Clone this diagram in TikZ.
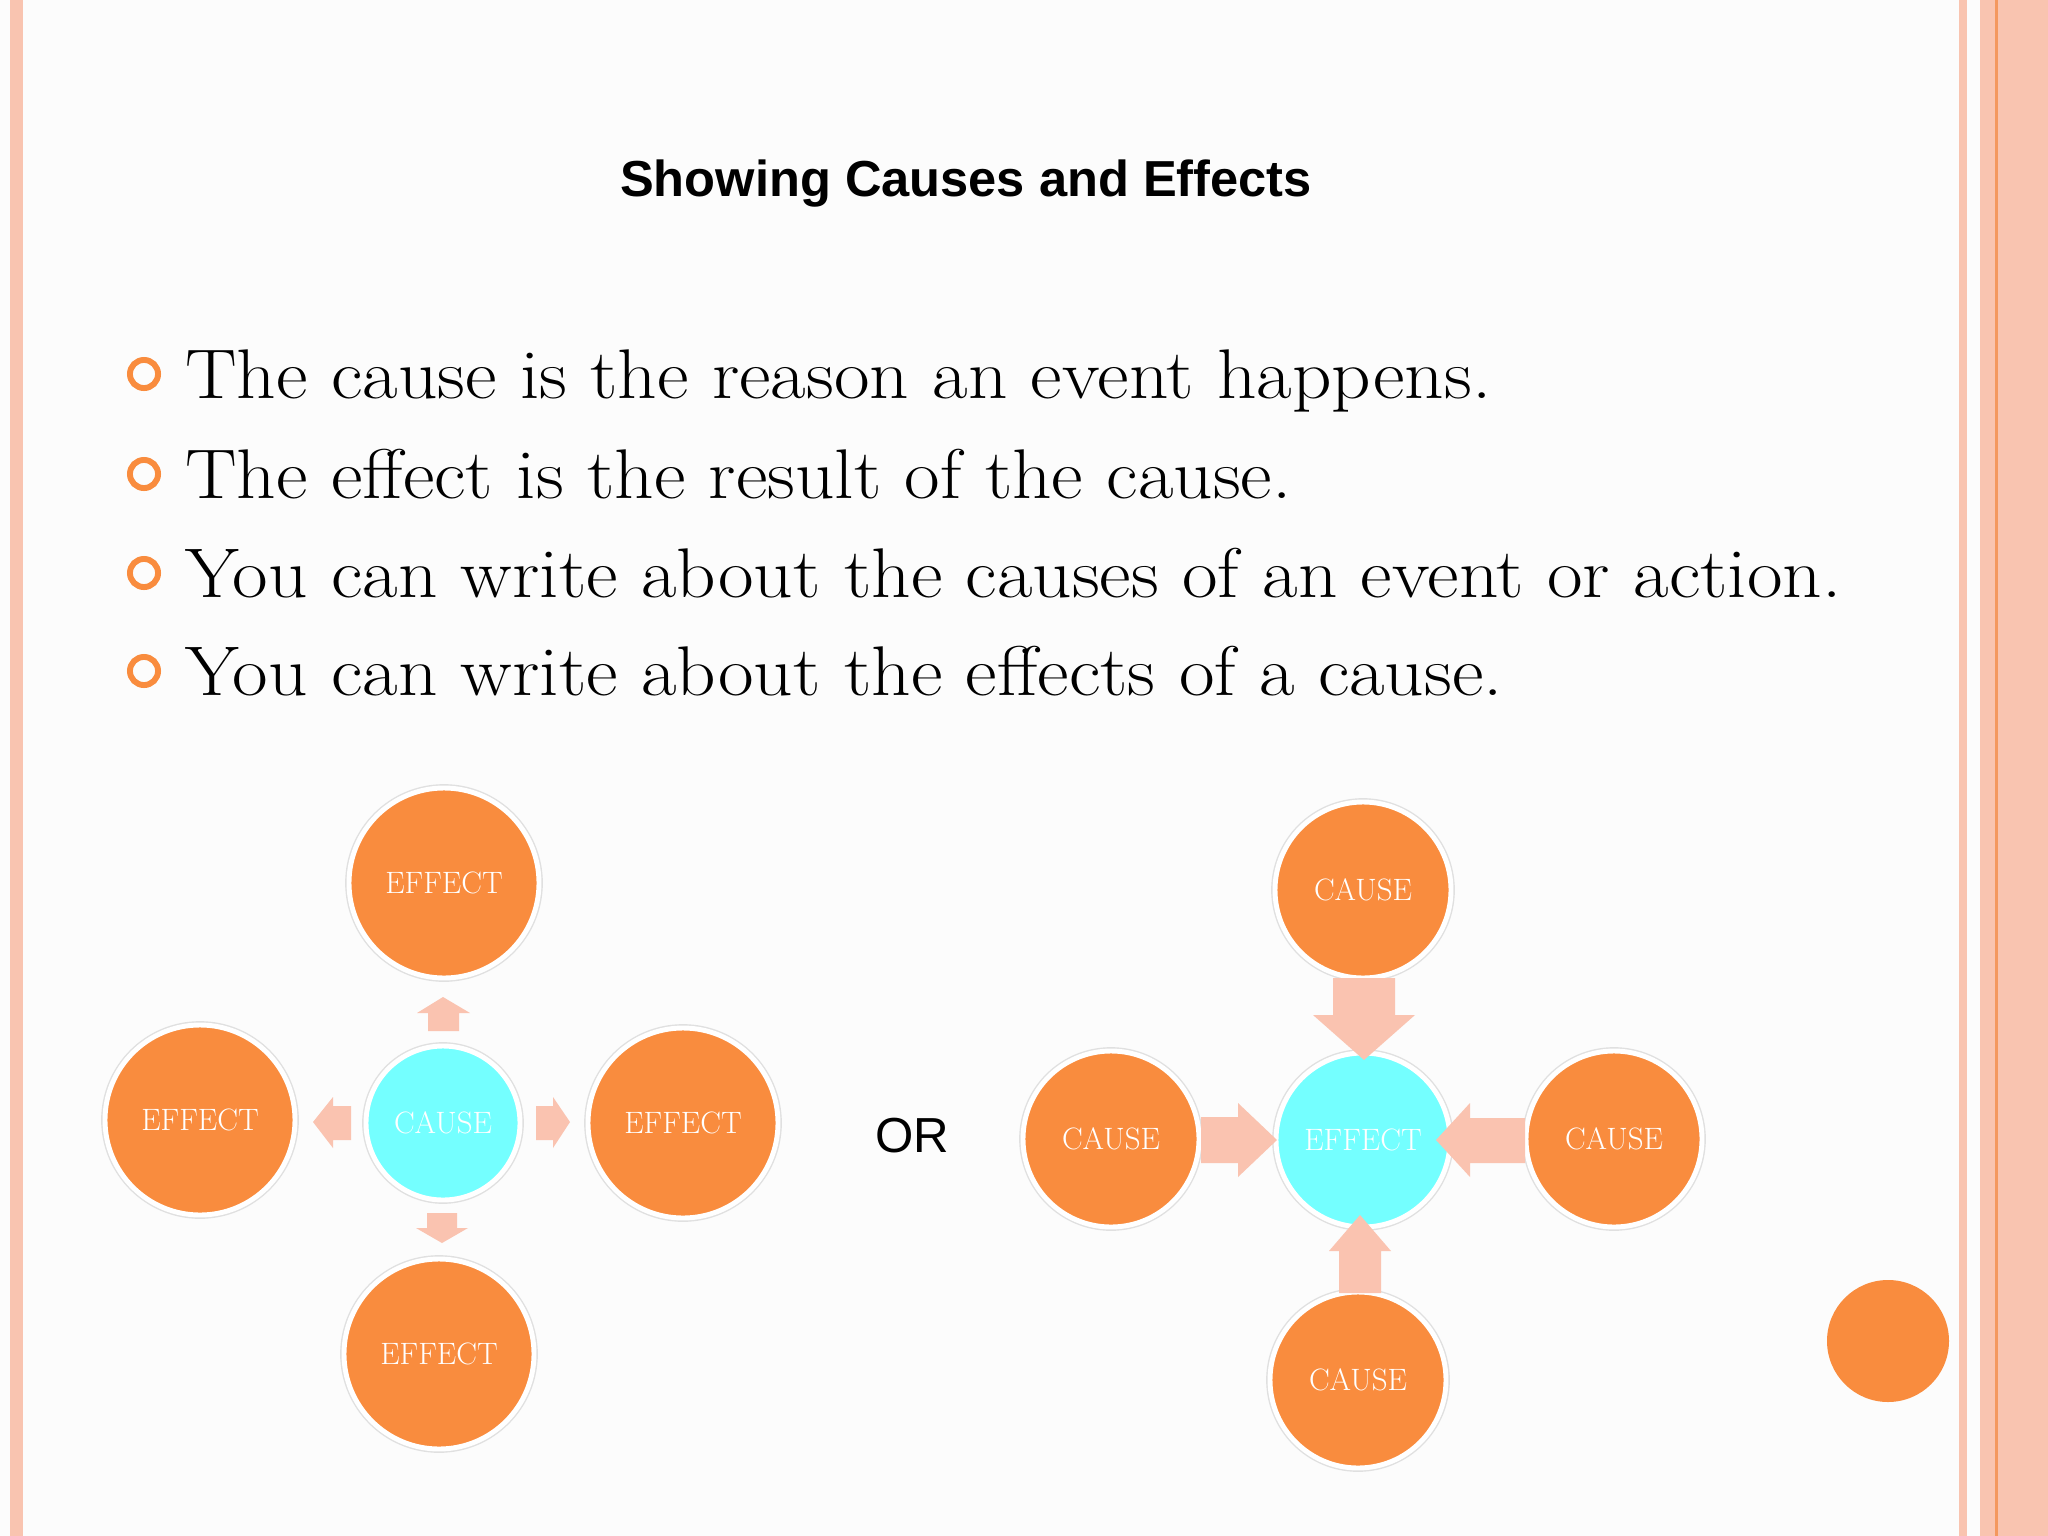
\documentclass[tikz,border=0pt]{standalone}
\usepackage{fontspec}
\newfontfamily\arialf{Liberation Sans}
\definecolor{stripe}{HTML}{F9C4B0}
\definecolor{stripedk}{HTML}{F4985F}
\definecolor{orgc}{HTML}{F98C3E}
\definecolor{cyanc}{HTML}{74FFFF}
\definecolor{arrc}{HTML}{FAC3B0}
\tikzset{
 bub/.style={circle,inner sep=0pt,minimum size=#1*0.25mm,draw=white,line width=3.5pt,
   preaction={draw=black!12,line width=5.5pt},text=white,
   font=\fontsize{22}{22}\selectfont},
 obub/.style={bub=#1,fill=orgc},
 cbub/.style={bub=#1,fill=cyanc},
 blk/.style={fill=arrc},
 bul/.style={circle,draw=orgc,line width=4.2pt,minimum size=20pt,inner sep=0pt},
 btxt/.style={anchor=base west,font=\fontsize{50}{50}\selectfont,inner sep=0pt}
}
\begin{document}
\begin{tikzpicture}[x=0.25mm,y=-0.25mm]
\useasboundingbox (0,0) rectangle (2048,1536);
\fill[white!99!black] (0,0) rectangle (2048,1536);
% borders
\fill[stripe] (10,0) rectangle (23,1536);
\fill[stripe] (1959,0) rectangle (1967,1536);
\fill[stripe] (1980,0) rectangle (2048,1536);
\fill[stripedk] (1995,0) rectangle (1998,1536);
% title
\node[font=\arialf\bfseries\fontsize{36}{36}\selectfont] (title) at (966,184) {Showing Causes and Effects};
% bullets
\foreach \y/\t [count=\i] in {381/{The cause is the reason an event happens.},
  481/{The effect is the result of the cause.},
  580/{You can write about the causes of an event or action.},
  678/{You can write about the effects of a cause.}}{
  \node[bul] (b\i) at (144,\y-7) {};
  \node[btxt] (t\i) at (185,\y+17) {\scalebox{1.1}[1]{\t}};
}
% left diagram
\node[cbub=154] (lc) at (443,1123) {CAUSE};
\node[obub=190] (le1) at (444,883) {EFFECT};
\node[obub=190] (le2) at (200,1120) {EFFECT};
\node[obub=190] (le3) at (683,1123) {EFFECT};
\node[obub=190] (le4) at (439,1354) {EFFECT};
\fill[blk] (428,1031) -- (428,1013) -- (417,1013) -- (443,997) -- (470,1013) -- (459,1013) -- (459,1031) -- cycle;
\fill[blk] (351,1106) -- (333,1106) -- (333,1097) -- (313,1122) -- (333,1148) -- (333,1140) -- (351,1140) -- cycle;
\fill[blk] (536,1106) -- (553,1106) -- (553,1097) -- (570,1122) -- (553,1148) -- (553,1140) -- (536,1140) -- cycle;
\fill[blk] (427,1213) -- (427,1228) -- (416,1228) -- (442,1243) -- (468,1228) -- (457,1228) -- (457,1213) -- cycle;
\node[font=\arialf\fontsize{35}{35}\selectfont] (or) at (912,1136) {OR};
% right diagram
\node[cbub=174] (re) at (1363,1140) {EFFECT};
\node[obub=176] (rc1) at (1363,890) {CAUSE};
\node[obub=176] (rc2) at (1111,1139) {CAUSE};
\node[obub=176] (rc3) at (1614,1139) {CAUSE};
\node[obub=176] (rc4) at (1358,1380) {CAUSE};
\fill[blk] (1333,978) -- (1333,1015) -- (1313,1015) -- (1364,1060) -- (1415,1015) -- (1395,1015) -- (1395,978) -- cycle;
\fill[blk] (1201,1117) -- (1238,1117) -- (1238,1103) -- (1277,1140) -- (1238,1177) -- (1238,1163) -- (1201,1163) -- cycle;
\fill[blk] (1525,1118) -- (1470,1118) -- (1470,1103) -- (1436,1140) -- (1470,1177) -- (1470,1163) -- (1525,1163) -- cycle;
\fill[blk] (1339,1293) -- (1339,1251) -- (1329,1251) -- (1360,1215) -- (1391,1251) -- (1381,1251) -- (1381,1293) -- cycle;
\node[circle,fill=orgc,minimum size=30.5mm,inner sep=0pt] (dot) at (1888,1341) {};
\end{tikzpicture}
\end{document}
